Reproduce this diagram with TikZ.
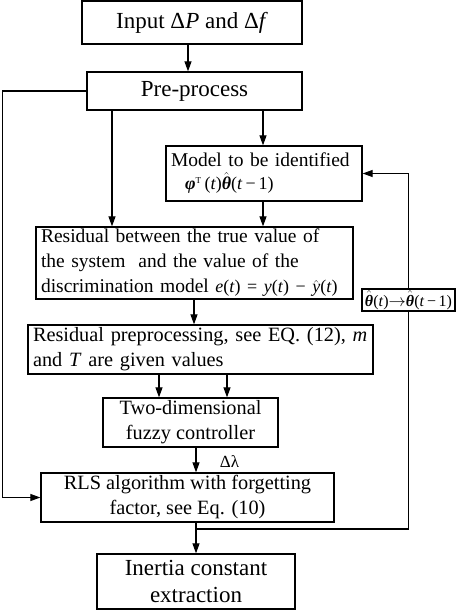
\documentclass[tikz,border=0pt]{standalone}
\usepackage{fontspec}
\setmainfont{Liberation Serif}
\usetikzlibrary{arrows.meta}
\newcommand\thh{\ensuremath{\hat{\mbox{\bfseries\itshape θ}}}}
\newcommand\yh{\ensuremath{\hat{\mbox{\itshape y}}}}
\tikzset{
  box/.style={draw, line width=1.3pt, inner xsep=5pt, inner ysep=0pt},
  arr/.style={-{Triangle[length=10pt,width=7pt]}, line width=1.1pt},
  ln/.style={line width=1.1pt},
  fa/.style={font=\fontsize{23}{27}\selectfont},
  fb/.style={font=\fontsize{19.5}{25}\selectfont},
  fc/.style={font=\fontsize{20.3}{25}\selectfont},
}
\begin{document}
\begin{tikzpicture}[x=1pt,y=-1pt]
\useasboundingbox (0,0) rectangle (456,610);
\node[box, fa, minimum width=220pt, minimum height=43pt] (in) at (192,22.5) {Input Δ\textit{P} and Δ\textit{f}};
\node[box, fa, minimum width=215pt, minimum height=38pt] (pre) at (194.5,91) {Pre-process};
\node[box, fb, minimum width=196pt, minimum height=55pt, text width=186pt, align=left] (model) at (264,173.5)
  {Model to be identified\\[-2pt]\hspace*{14pt}{\fontsize{18}{20}\selectfont\textbf{\textit{φ}}\textsuperscript{\fontsize{9}{9}\selectfont T}\,(\textit{t})\thh(\textit{t}\hspace{3pt}−\hspace{3pt}1)}};
\node[box, fb, minimum width=317pt, minimum height=72pt, text width=307pt, align=left] (res) at (194.5,263)
  {Residual between the true value of\\ the system \ and the value of the\\ discrimination model {\fontsize{18}{20}\selectfont\textit{e}(\textit{t}) = \textit{y}(\textit{t}) − \yh(\textit{t})}};
\node[box, inner xsep=1pt, minimum width=93pt, minimum height=22pt, font=\fontsize{16}{18}\selectfont] (fb) at (408.5,300)
  {\thh(\textit{t})$\rightarrow$\thh(\textit{t}\,−\,1)};
\node[box, fc, minimum width=345pt, minimum height=49pt, text width=335pt, align=left] (rp) at (200.5,349.5)
  {Residual preprocessing, see EQ. (12), \textit{m}\\ and \textit{T} are given values};
\node[box, fc, minimum width=175pt, minimum height=49pt, align=center] (two) at (190.5,422.5)
  {Two-dimensional\\ fuzzy controller};
\node[box, fc, minimum width=293pt, minimum height=49pt, align=center] (rls) at (187.5,497.5)
  {RLS algorithm with forgetting\\ factor, see Eq. (10)};
\node[box, fa, minimum width=198pt, minimum height=55pt, align=center] (ine) at (196,581.5)
  {Inertia constant\\ extraction};
\coordinate (x188) at (188,0);
\coordinate (x112) at (112,0);
\coordinate (x263) at (263,0);
\coordinate (x194) at (194,0);
\coordinate (x159) at (159,0);
\coordinate (x227) at (227,0);
\coordinate (x196) at (196,0);
\coordinate (jn) at (196,529);
\draw[arr] (in.south -| x188) -- (pre.north -| x188);
\draw[arr] (pre.west) -- ++(-84,0) |- (rls.west);
\draw[arr] (pre.south -| x112) -- (res.north -| x112);
\draw[arr] (pre.south -| x263) -- (model.north -| x263);
\draw[arr] (model.south -| x263) -- (res.north -| x263);
\draw[arr] (res.south -| x194) -- (rp.north -| x194);
\draw[arr] (rp.south -| x159) -- (two.north -| x159);
\draw[arr] (rp.south -| x227) -- (two.north -| x227);
\draw[arr] (two.south -| x196) -- node[right=20pt, pos=0.55, font=\fontsize{17}{18}\selectfont] (dl) {Δλ} (rls.north -| x196);
\draw[arr] (rls.south -| x196) -- (ine.north -| x196);
\draw[ln] (jn) -| (fb.south);
\draw[arr] (fb.north) |- (model.east);
\end{tikzpicture}
\end{document}
